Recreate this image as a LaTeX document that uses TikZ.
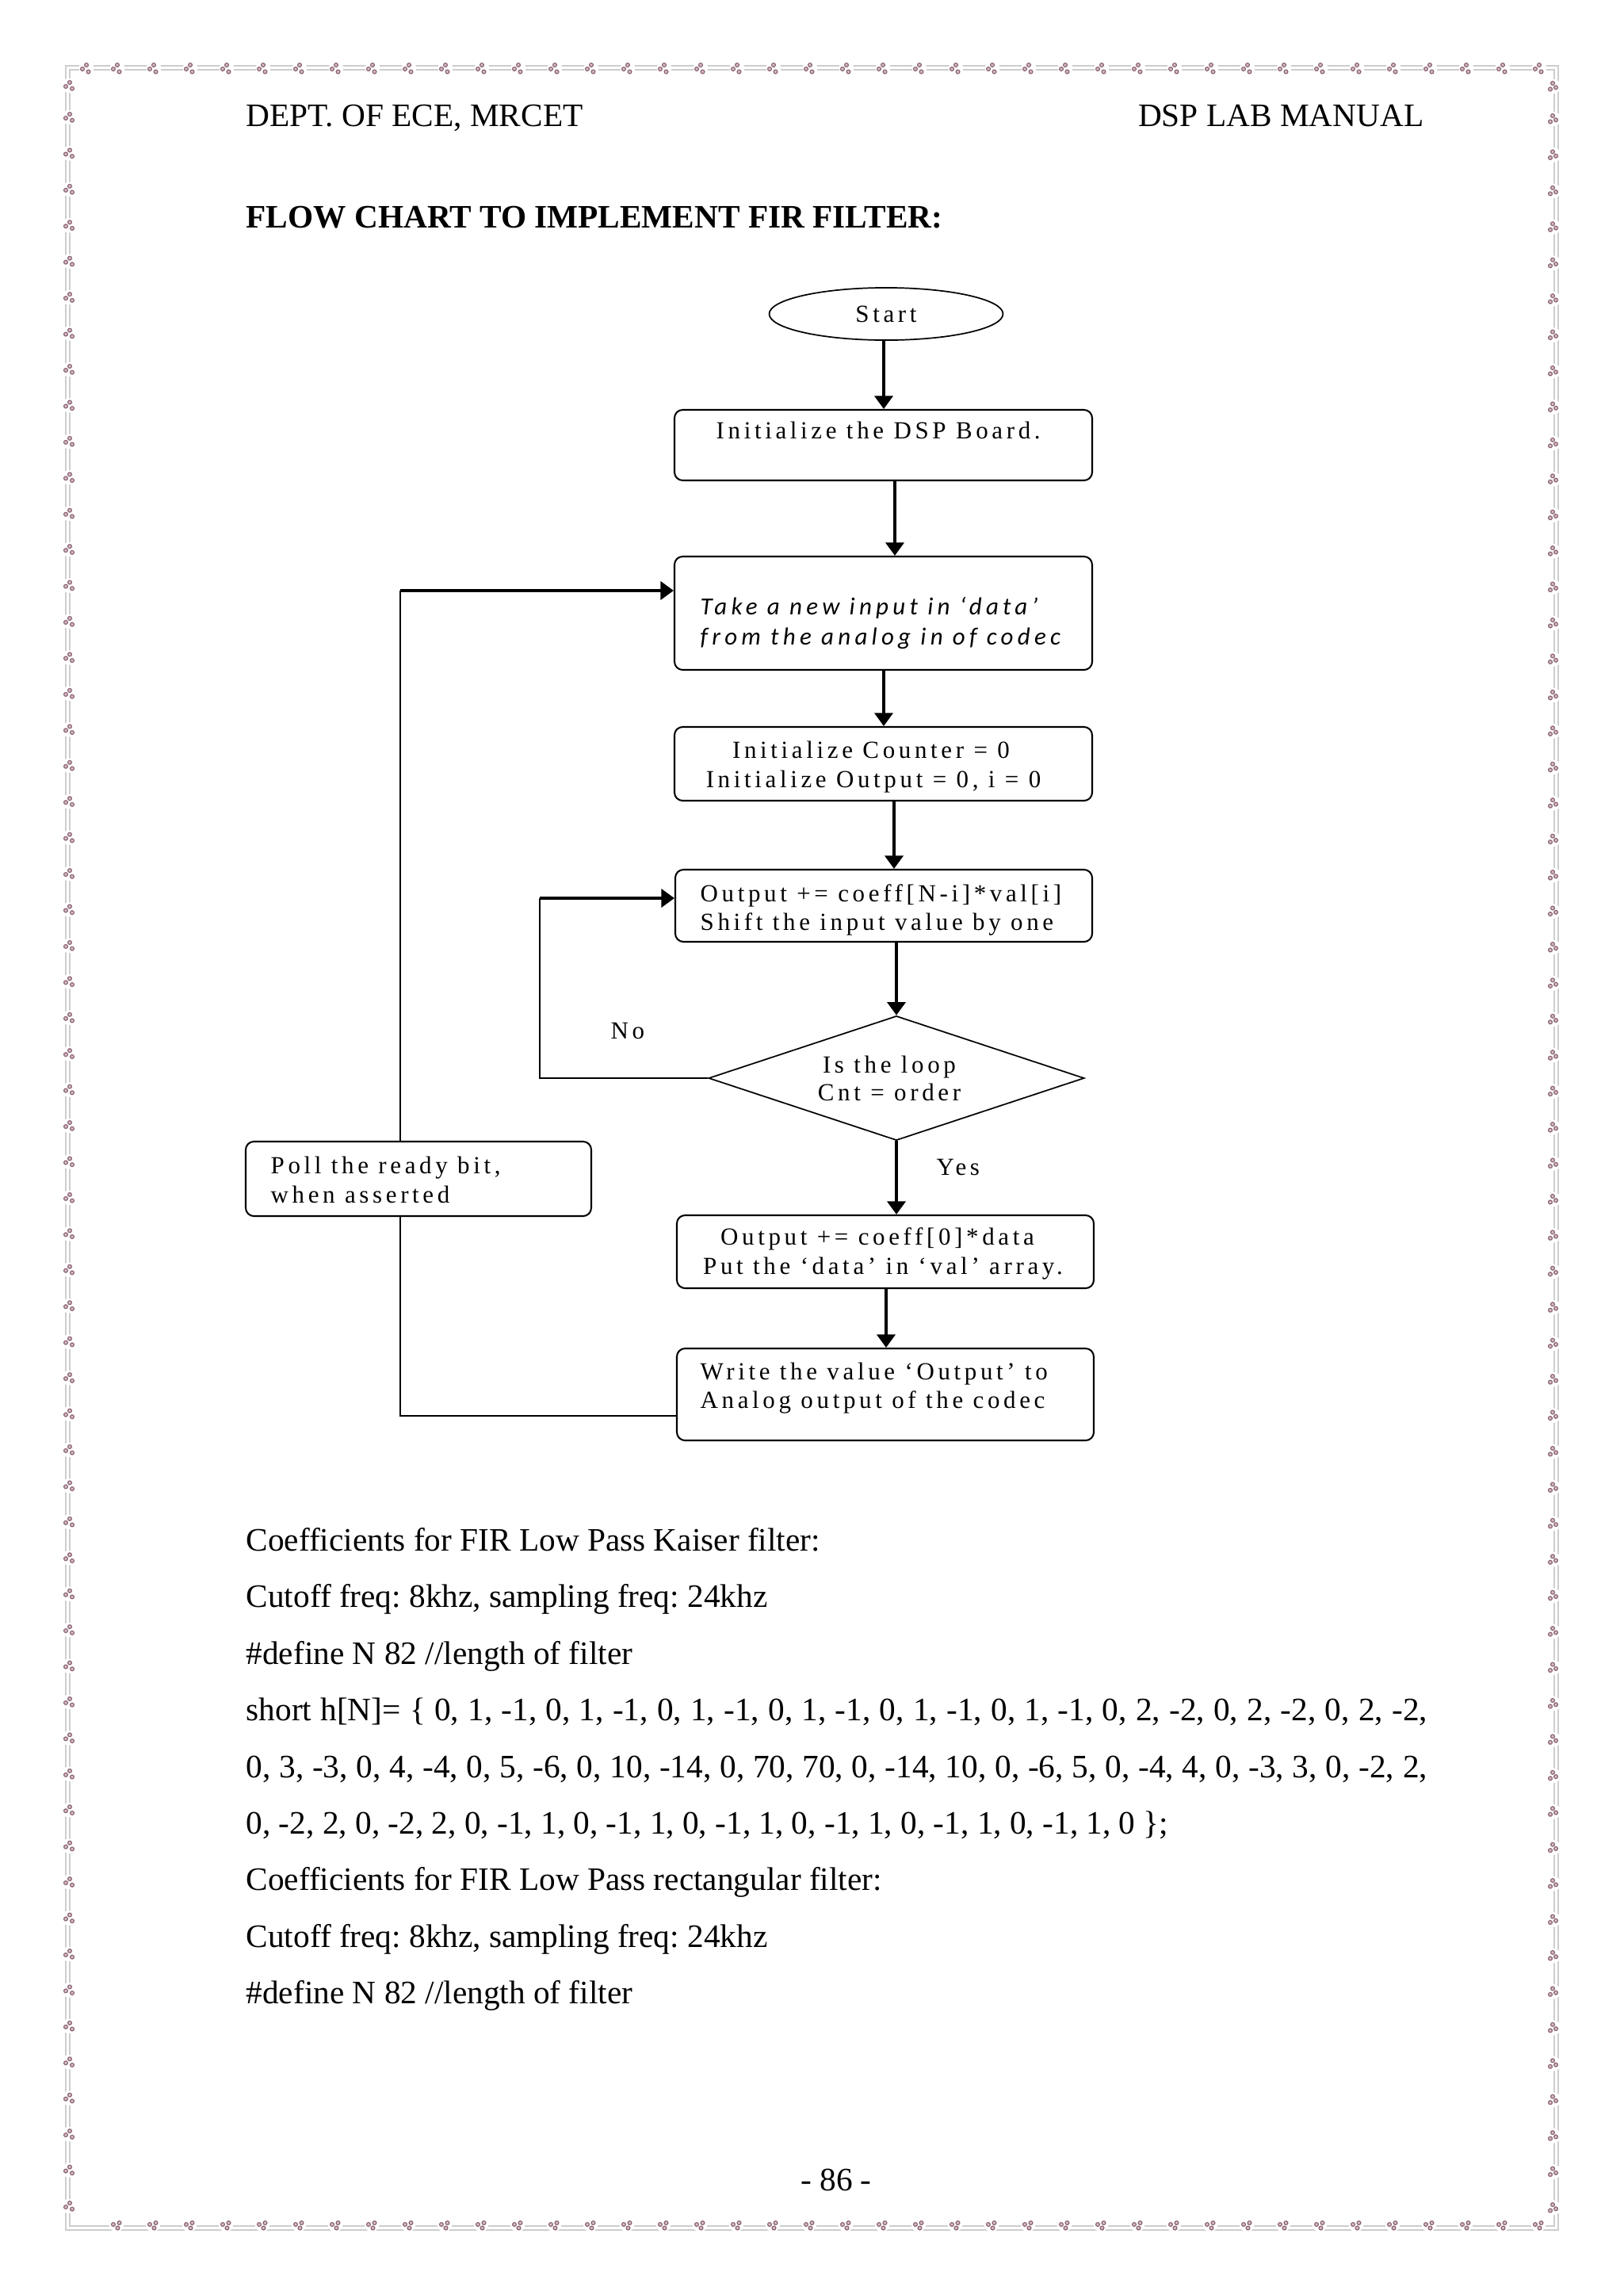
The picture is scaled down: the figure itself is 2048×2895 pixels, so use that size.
\documentclass[tikz,border=0pt]{standalone}
\usepackage{fontspec}
\setmainfont{Liberation Serif}
\newfontfamily\fcfont[LetterSpace=15]{Liberation Serif}
\newfontfamily\fcital[LetterSpace=17]{Carlito}
\usetikzlibrary{shapes.geometric,arrows.meta,fit}
\definecolor{bordergray}{RGB}{205,205,205}
\definecolor{dotfill}{RGB}{214,190,200}
\definecolor{dotline}{RGB}{140,100,116}
\tikzset{
  body/.style={font=\fontsize{12}{14}\selectfont, inner sep=0, anchor=base west},
  fc/.style={font=\fcfont\fontsize{9}{11}\selectfont, inner sep=0},
  fci/.style={font=\fcital\itshape\fontsize{9}{11}\selectfont, inner sep=0, anchor=base west},
  box/.style={draw, line width=0.6pt, rounded corners=3pt, inner sep=0},
  flow/.style={line width=1.3pt, -{Triangle[length=4.8pt,width=6.6pt]}},
  loopl/.style={line width=0.7pt},
  loopa/.style={line width=1.2pt, -{Triangle[length=4.8pt,width=6.6pt]}},
  dot/.style={fill=dotfill, draw=dotline, line width=0.35pt},
}
\newcommand\clTop[1]{\fill[white] (#1,86) circle[radius=2.7pt];
  \foreach \ox/\oy in {0/-4,-5/1,2.5/4.5} \draw[dot] (#1+\ox,86+\oy) circle[radius=0.7pt];}
\newcommand\clBot[1]{\fill[white] (#1,2806) circle[radius=2.7pt];
  \foreach \ox/\oy in {-4/0,3.5/-2,1.5/4.5} \draw[dot] (#1+\ox,2806+\oy) circle[radius=0.7pt];}
\newcommand\clLeft[1]{\fill[white] (87,#1) circle[radius=2.7pt];
  \foreach \ox/\oy in {1/-4,-4/1,4/3.7} \draw[dot] (87+\ox,#1+\oy) circle[radius=0.7pt];}
\newcommand\clRight[1]{\fill[white] (1960,#1) circle[radius=2.7pt];
  \foreach \ox/\oy in {-1/-4,-4/3.5,3/1.3} \draw[dot] (1960+\ox,#1+\oy) circle[radius=0.7pt];}
\begin{document}
\frenchspacing
\begin{tikzpicture}[x=0.29054pt,y=-0.29054pt]
\useasboundingbox (0,0) rectangle (2048,2895);
\fill[white] (0,0) rectangle (2048,2895);
% ---- page border
\draw[bordergray, line width=0.5pt] (83,83) rectangle (1966,2813);
\draw[bordergray, line width=0.5pt] (88,88) rectangle (1961,2808);
\clTop{109}
\foreach \k in {0,...,39}{\pgfmathsetmacro\cx{148+46*\k}\clTop{\cx}}
\foreach \k in {0,...,39}{\pgfmathsetmacro\cx{147+46*\k}\clBot{\cx}}
\clLeft{108}
\foreach \k in {0,...,58}{\pgfmathsetmacro\cy{148+45.43*\k}\clLeft{\cy}}
\clRight{109}
\foreach \k in {0,...,58}{\pgfmathsetmacro\cy{150+45.43*\k}\clRight{\cy}}
% ---- header
\node[body] (hl) at (310,159) {DEPT. OF ECE, MRCET};
\node[body, anchor=base east] (hr) at (1797,159) {DSP LAB MANUAL};
\node[body, font=\bfseries\fontsize{12}{14}\selectfont] (title) at (310,287) {FLOW CHART TO IMPLEMENT FIR FILTER:};
% ---- flowchart boxes
\node[draw, ellipse, line width=0.5pt, minimum width=85.7pt, minimum height=19.2pt, fc] (start) at (1118,396) {Start};
\node[box, fit={(851,517)(1378,606)}] (b1) {};
\node[box, fit={(851,702)(1378,845)}] (b2) {};
\node[box, fit={(851,917)(1378,1010)}] (b3) {};
\node[box, fit={(852,1097)(1378,1188)}] (b4) {};
\node[draw, diamond, line width=0.5pt, minimum width=137.7pt, minimum height=45.6pt, inner sep=0] (dec) at (1131,1360) {};
\node[box, fit={(310,1440)(746,1534)}] (poll) {};
\node[box, fit={(854,1533)(1380,1625)}] (b5) {};
\node[box, fit={(854,1701)(1380,1817)}] (b6) {};
% ---- flowchart texts
\node[fc, anchor=base west] (t1) at (903,553) {Initialize the DSP Board.};
\node[fci] (t2a) at (883,775) {Take a new input in ‘data’};
\node[fci] (t2b) at (883,813) {from the analog in of codec};
\node[fc, anchor=base] (t3a) at (1099,956) {Initialize Counter = 0};
\node[fc, anchor=base] (t3b) at (1102,993) {Initialize Output = 0, i = 0};
\node[fc, anchor=base west] (t4a) at (883,1137) {Output += coeff[N-i]*val[i]};
\node[fc, anchor=base west] (t4b) at (883,1173) {Shift the input value by one};
\node[fc, anchor=base] (tda) at (1122,1353) {Is the loop};
\node[fc, anchor=base] (tdb) at (1122,1388) {Cnt = order};
\node[fc, anchor=base west] (tno) at (770,1310) {No};
\node[fc, anchor=base west] (tyes) at (1181,1482) {Yes};
\node[fc, anchor=base west] (tpa) at (341,1480) {Poll the ready bit,};
\node[fc, anchor=base west] (tpb) at (341,1517) {when asserted};
\node[fc, anchor=base] (t5a) at (1107,1570) {Output += coeff[0]*data};
\node[fc, anchor=base] (t5b) at (1114,1607) {Put the ‘data’ in ‘val’ array.};
\node[fc, anchor=base west] (t6a) at (883,1740) {Write the value ‘Output’ to};
\node[fc, anchor=base west] (t6b) at (883,1776) {Analog output of the codec};
% ---- connectors
\coordinate (xa) at (1115,0);
\coordinate (xb) at (1129,0);
\coordinate (xc) at (1128,0);
\coordinate (xd) at (1118,0);
\draw[flow] (start.south -| xa) -- (b1.north -| xa);
\draw[flow] (b1.south -| xb) -- (b2.north -| xb);
\draw[flow] (b2.south -| xa) -- (b3.north -| xa);
\draw[flow] (b3.south -| xc) -- (b4.north -| xc);
\draw[flow] (b4.south -| dec.north) -- (dec.north);
\draw[flow] (dec.south) -- (b5.north -| dec.south);
\draw[flow] (b5.south -| xd) -- (b6.north -| xd);
% No loop
\coordinate (nl) at (681,1133);
\draw[loopl] (dec.west) -| (nl);
\draw[loopa] (nl) -- (nl -| b4.west);
% outer loop
\coordinate (ol) at (505,745);
\coordinate (ob) at (505,1786);
\draw[loopl] (ob -| b6.west) -- (ob) -- (ob |- poll.south);
\draw[loopl] (ol |- poll.north) -- (ol);
\draw[loopa] (ol) -- (ol -| b2.west);
% ---- body text
\node[body] (l1) at (310,1956) {Coefficients for FIR Low Pass Kaiser filter:};
\node[body] (l2) at (310,2027) {Cutoff freq: 8khz, sampling freq: 24khz};
\node[body] (l3) at (310,2099) {\#define N 82 //length of filter};
\node[body] (l4) at (310,2170) {\hbox to 433pt{short h[N]= \{ 0, 1, -1, 0, 1, -1, 0, 1, -1, 0, 1, -1, 0, 1, -1, 0, 1, -1, 0, 2, -2, 0, 2, -2, 0, 2, -2,}};
\node[body] (l5) at (310,2242) {\hbox to 433pt{0, 3, -3, 0, 4, -4, 0, 5, -6, 0, 10, -14, 0, 70, 70, 0, -14, 10, 0, -6, 5, 0, -4, 4, 0, -3, 3, 0, -2, 2,}};
\node[body] (l6) at (310,2313) {0, -2, 2, 0, -2, 2, 0, -1, 1, 0, -1, 1, 0, -1, 1, 0, -1, 1, 0, -1, 1, 0, -1, 1, 0 \};};
\node[body] (l7) at (310,2384) {Coefficients for FIR Low Pass rectangular filter:};
\node[body] (l8) at (310,2456) {Cutoff freq: 8khz, sampling freq: 24khz};
\node[body] (l9) at (310,2527) {\#define N 82 //length of filter};
\node[body, anchor=base] (pg) at (1055,2763) {- 86 -};
\end{tikzpicture}
\end{document}
